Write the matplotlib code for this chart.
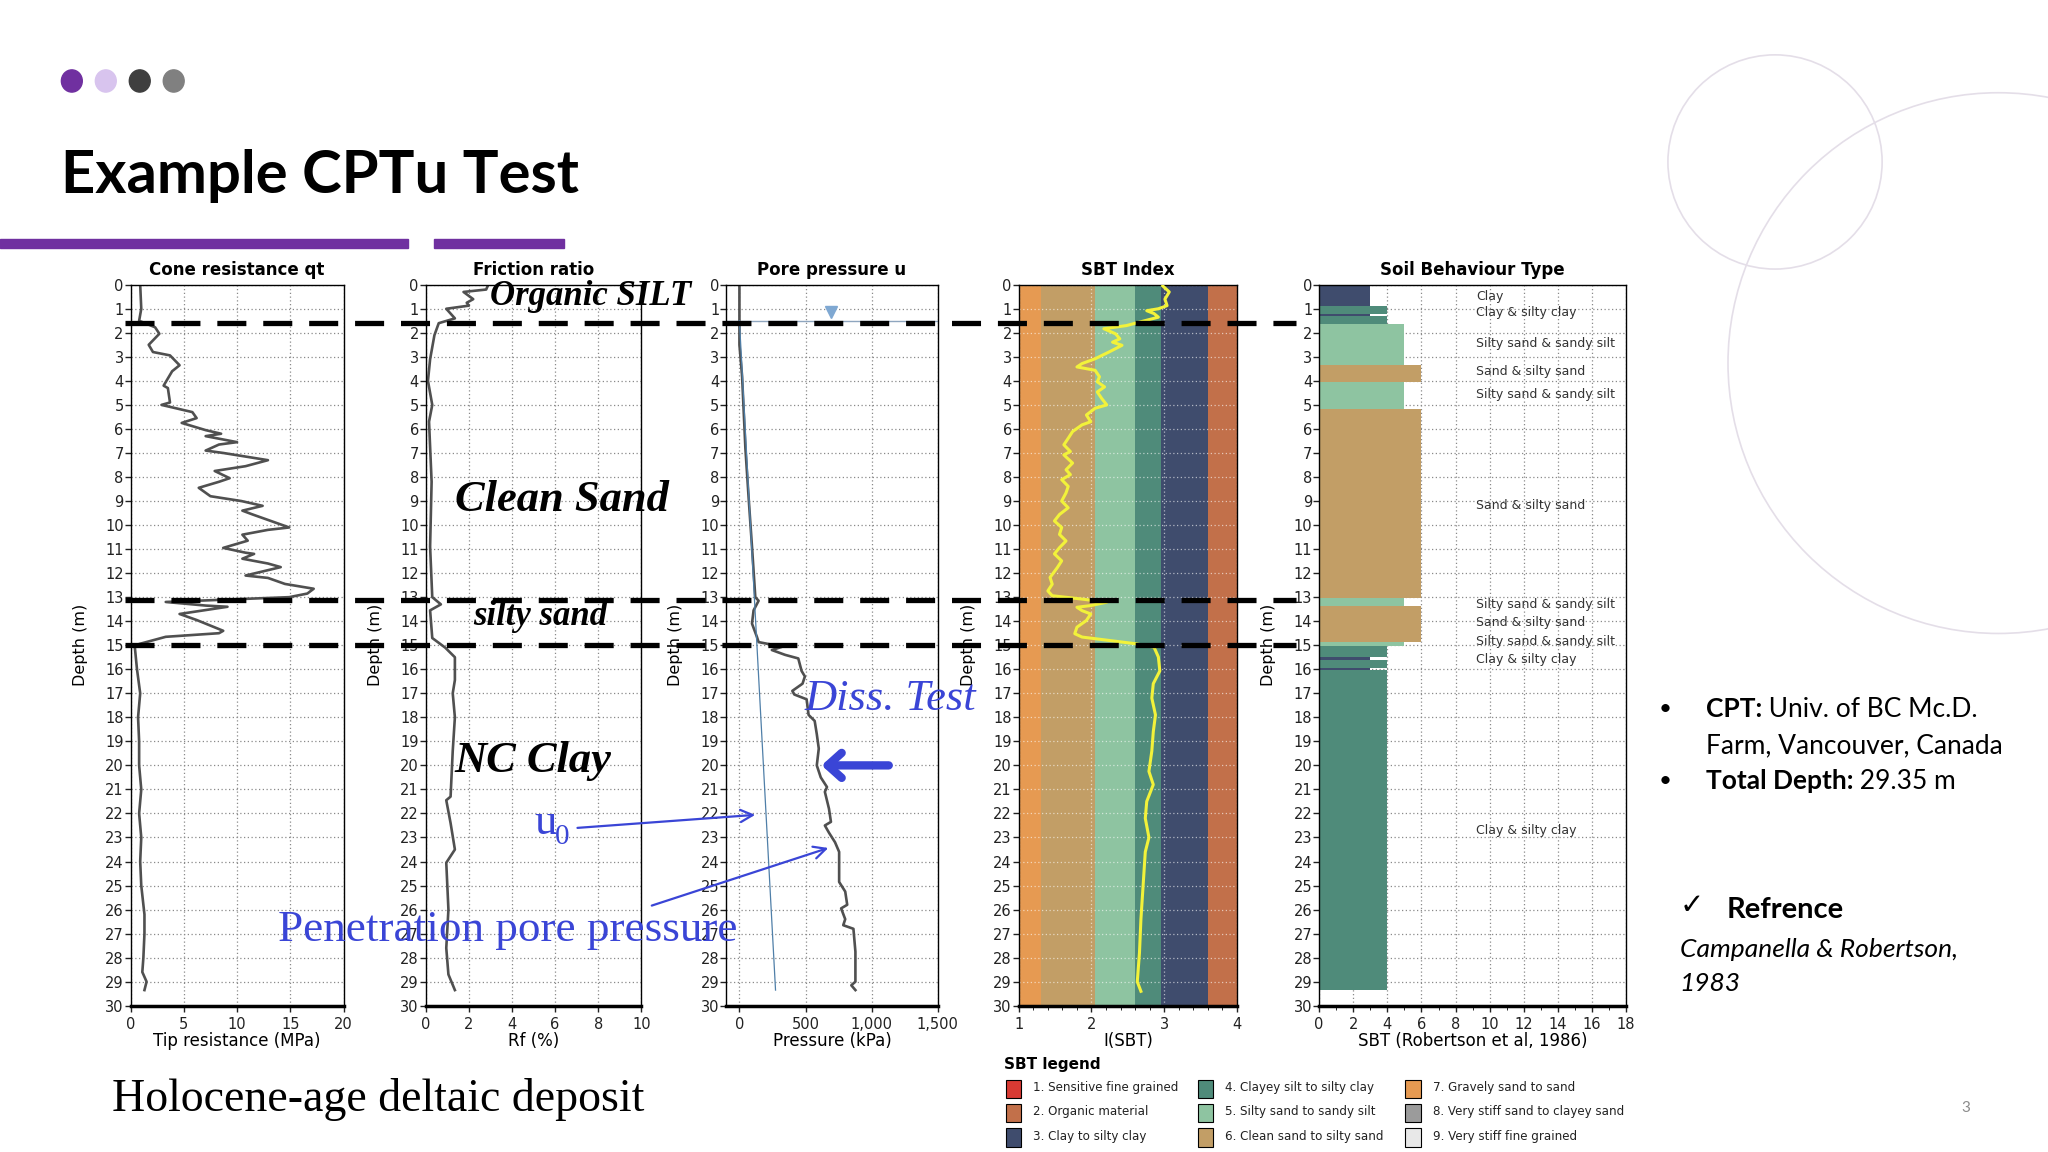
import numpy as np
import matplotlib.pyplot as plt
from matplotlib.patches import Rectangle, Ellipse
from matplotlib.lines import Line2D
from matplotlib.ticker import MultipleLocator
import matplotlib.transforms as mtransforms

# ---- data ----
qt_depth = [0, 1.0, 1.5, 1.77, 2.04, 2.5, 2.8, 2.94, 3.35, 3.6, 4.2, 4.3, 4.9, 5.0, 5.3, 5.55, 5.75,
            6.05, 6.2, 6.3, 6.55, 6.65, 6.9, 7.0, 7.3, 7.55, 7.75, 8.05, 8.2, 8.45, 8.8, 9.0, 9.2,
            9.4, 9.55, 10.1, 10.2, 10.4, 10.65, 10.95, 11.15, 11.2, 11.4, 11.6, 11.75, 12.1, 12.2,
            12.45, 12.65, 12.85, 13.0, 13.2, 13.35, 13.4, 13.7, 13.95, 14.4, 14.5, 14.65, 14.95,
            15.1, 16, 17, 18, 19, 20, 21, 22, 23, 24, 25, 26.2, 27, 28, 28.6, 29, 29.35]
qt = [0.9, 1.0, 0.8, 2.3, 2.7, 1.7, 2.1, 3.7, 4.6, 3.9, 3.1, 3.5, 3.7, 2.9, 5.8, 6.2, 4.8,
      7.05, 8.5, 7.05, 10.0, 8.3, 7.05, 8.7, 12.9, 10.8, 7.9, 9.3, 8.3, 6.4, 7.5, 10.4, 12.4,
      10.5, 11.4, 14.9, 12.9, 10.5, 11.0, 8.7, 10.8, 11.6, 10.5, 12.9, 14.1, 10.8, 12.9,
      14.5, 17.2, 16.6, 14.9, 3.3, 7.05, 9.1, 4.6, 6.2, 8.7, 8.3, 3.3, 0.8,
      0.4, 0.6, 0.9, 0.7, 0.8, 0.8, 1.0, 0.8, 1.0, 0.9, 1.0, 1.3, 1.3, 1.2, 1.1, 1.5, 1.3]

rf_depth = [0, 0.2, 0.3, 0.6, 0.75, 0.87, 1.0, 1.4, 1.6, 2.1, 3.1, 4.0, 5.0, 5.7, 8.2, 10.9,
            13.0, 13.3, 13.55, 14.7, 15.1, 15.5, 16.45, 17.0, 18.0, 19.4, 21.3, 21.45, 22.4,
            23.5, 24.05, 26.0, 27.6, 28.7, 29.35]
rf = [2.9, 2.8, 1.75, 2.2, 1.9, 2.0, 0.95, 1.35, 0.6, 0.4, 0.2, 0.1, 0.3, 0.15, 0.27, 0.2,
      0.3, 0.7, 0.2, 0.3, 0.9, 1.35, 1.35, 1.25, 1.35, 1.25, 1.15, 0.95, 1.15,
      1.35, 0.95, 1.05, 0.95, 1.05, 1.35]

u_depth = [0, 2.5, 3.8, 6.8, 8.9, 10.9, 13.0, 13.15, 13.55, 14.1, 14.65, 14.87, 14.95, 15.07,
           15.2, 15.4, 15.55, 16.07, 16.3, 16.6, 16.9, 17.05, 17.25, 17.9, 18.15, 18.7, 19.3,
           20.0, 20.5, 20.9, 21.1, 21.8, 22.35, 22.5, 22.8, 23.2, 23.6, 24.85, 25.25, 25.8,
           25.95, 26.4, 26.65, 26.8, 27.75, 29.0, 29.15, 29.35]
u2 = [0, 0, 20, 45, 70, 95, 120, 145, 107, 95, 132, 145, 220, 320,
      245, 345, 445, 470, 495, 477, 400, 415, 508, 523, 569, 585, 600,
      585, 615, 662, 646, 677, 692, 646, 677, 723, 754, 754, 800, 815,
      769, 800, 785, 862, 877, 877, 846, 877]
u0_depth = [1.5, 29.35]
u0 = [0, 273]
water_depth = 1.5

ic_depth = [0.05, 0.3, 0.6, 0.87, 1.0, 1.08, 1.2, 1.35, 1.5, 1.7,
            1.83, 2.04, 2.25, 2.39, 2.52, 2.8, 3.08, 3.28, 3.42, 3.56,
            3.83, 4.04, 4.25, 4.46, 4.73, 5.0, 5.14, 5.42, 5.7, 5.83,
            6.11, 6.39, 6.66, 6.94, 7.08, 7.42, 7.7, 7.9, 8.11, 8.39,
            8.66, 9.0, 9.28, 9.56, 9.83, 10.1, 10.39, 10.66, 10.94, 11.2,
            11.49, 11.77, 12.18, 12.46, 12.74, 12.94, 13.08, 13.21, 13.35, 13.42,
            13.56, 13.7, 13.97, 14.25, 14.52, 14.66, 14.8, 14.94, 15.08, 15.49,
            16.07, 16.6, 17.2, 17.9, 18.6, 19.4, 20.25, 20.8, 21.5, 22.2,
            23.0, 23.6, 25.0, 26.4, 27.8, 29.0, 29.4]
ic = [2.98, 3.07, 3.01, 3.04, 2.92, 2.76, 2.86, 2.92, 2.73, 2.48,
      2.17, 2.33, 2.39, 2.29, 2.42, 2.24, 2.05, 1.87, 1.80, 2.05,
      2.11, 2.08, 2.18, 2.08, 2.14, 2.21, 2.05, 1.93, 1.99, 1.87,
      1.74, 1.68, 1.62, 1.71, 1.62, 1.74, 1.65, 1.71, 1.59, 1.68,
      1.65, 1.59, 1.68, 1.56, 1.49, 1.59, 1.56, 1.65, 1.56, 1.49,
      1.59, 1.53, 1.43, 1.46, 1.40, 1.46, 1.87, 2.21, 1.99, 1.80,
      1.87, 1.99, 1.93, 1.80, 1.77, 1.87, 2.24, 2.61, 2.86, 2.92,
      2.94, 2.85, 2.83, 2.88, 2.85, 2.83, 2.79, 2.85, 2.76, 2.74,
      2.79, 2.74, 2.71, 2.68, 2.66, 2.63, 2.68]
ic_bounds = [1.0, 1.31, 2.05, 2.60, 2.95, 3.60, 4.0]
ic_band_zone = [7, 6, 5, 4, 3, 2]

sbt_top = [0.0, 0.9, 1.2, 1.3, 1.65, 3.35, 4.05, 5.15, 13.05, 13.35, 14.85, 15.05, 15.5, 15.6, 15.95, 16.05]
sbt_bottom = [0.9, 1.2, 1.3, 1.65, 3.35, 4.05, 5.15, 13.05, 13.35, 14.85, 15.05, 15.5, 15.6, 15.95, 16.05, 29.35]
sbt_zone = [3, 4, 3, 4, 5, 6, 5, 6, 5, 6, 5, 4, 3, 4, 3, 4]
sbt_names = ['Clay', 'Clay & silty clay', 'Silty sand & sandy silt', 'Sand & silty sand',
             'Silty sand & sandy silt', 'Sand & silty sand', 'Silty sand & sandy silt',
             'Sand & silty sand', 'Silty sand & sandy silt', 'Clay & silty clay', 'Clay & silty clay']
sbt_name_depth = [0.5, 1.17, 2.46, 3.6, 4.57, 9.19, 13.3, 14.05, 14.84, 15.6, 22.7]

zone_colors = {1: '#D83A33', 2: '#C2704A', 3: '#3F4C6D', 4: '#4F8B7A', 5: '#8EC4A1',
               6: '#C29E66', 7: '#E69A52', 8: '#9B9B9B', 9: '#E8E8E8'}
legend_labels = ['1. Sensitive fine grained', '2. Organic material', '3. Clay to silty clay',
                 '4. Clayey silt to silty clay', '5. Silty sand to sandy silt', '6. Clean sand to silty sand',
                 '7. Gravely sand to sand', '8. Very stiff sand to clayey sand', '9. Very stiff fine grained']

layer_breaks = [1.6, 13.1, 15.0]

# ---- layout helpers (positions on a 1568 x 882 grid) ----
W, H = 1568.0, 882.0
def fx(x):
    return x / W
def fy(y):
    return 1 - y / H

fig = plt.figure(figsize=(20.48, 11.52), dpi=100)
fig.patch.set_facecolor('white')
BLUE = '#3A45D6'

# decorative header
for x, c in zip([55, 81, 107, 133], ['#7030A0', '#D8C4EE', '#3F3F3F', '#808080']):
    fig.add_artist(Ellipse((fx(x), fy(62)), 16 / W, 17 / H, color=c, transform=fig.transFigure))
fig.text(fx(47), fy(135), 'Example CPTu Test', fontsize=43, fontweight='bold',
         family='Lato', va='center', ha='left')
fig.add_artist(Rectangle((0, fy(190)), fx(312), 7 / H, color='#7030A0', transform=fig.transFigure))
fig.add_artist(Rectangle((fx(332), fy(190)), fx(100), 7 / H, color='#7030A0', transform=fig.transFigure))
for cx, cy, r in [(1359, 124, 82), (1530, 278, 207)]:
    fig.add_artist(Ellipse((fx(cx), fy(cy)), 2 * r / W, 2 * r / H, fill=False,
                           ec='#E4DEE8', lw=1.2, transform=fig.transFigure))

TOP, BOT = 218, 770

def panel(left, right, title, xlabel, xlim, xticks, xticklabels=None):
    ax = fig.add_axes([fx(left), fy(BOT), fx(right - left), (BOT - TOP) / H])
    ax.set_ylim(30, 0)
    ax.set_yticks(range(0, 31))
    ax.set_xlim(*xlim)
    ax.set_xticks(xticks)
    if xticklabels:
        ax.set_xticklabels(xticklabels)
    ax.grid(True, linestyle=(0, (1, 2)), color='#8A8A8A', lw=0.9)
    ax.set_title(title, fontsize=12, fontweight='bold', pad=7)
    ax.set_xlabel(xlabel, fontsize=12, labelpad=0)
    ax.set_ylabel('Depth (m)', fontsize=11.5)
    ax.yaxis.set_label_coords(-33.0 / (right - left), 0.5)
    ax.tick_params(labelsize=10.5, length=4, width=1, pad=1, colors='#222222')
    ax.tick_params(axis='x', pad=4)
    for s in ax.spines.values():
        s.set_linewidth(1)
    ax.spines['bottom'].set_linewidth(2.5)
    return ax

ax1 = panel(100, 263, 'Cone resistance qt', 'Tip resistance (MPa)', (0, 20), [0, 5, 10, 15, 20])
ax1.plot(qt, qt_depth, color='#505050', lw=1.9)

ax2 = panel(326, 491, 'Friction ratio', 'Rf (%)', (0, 10), [0, 2, 4, 6, 8, 10])
ax2.plot(rf, rf_depth, color='#505050', lw=1.9)

ax3 = panel(556, 718, 'Pore pressure u', 'Pressure (kPa)', (-100, 1500), [0, 500, 1000, 1500],
            ['0', '500', '1,000', '1,500'])
ax3.plot(u2, u_depth, color='#505050', lw=1.9)
ax3.plot(u0, u0_depth, color='#4F7FA8', lw=0.9)
ax3.axhline(water_depth, color='#8FA6BF', lw=1)
ax3.plot([692], [1.15], marker='v', ms=9, color='#7FA8D2', ls='none')

ax4 = panel(780, 947, 'SBT Index', 'I(SBT)', (1, 4), [1, 2, 3, 4])
for lo, hi, z in zip(ic_bounds[:-1], ic_bounds[1:], ic_band_zone):
    ax4.axvspan(lo, hi, color=zone_colors[z], lw=0, zorder=0)
ax4.grid(True, linestyle=(0, (1, 2)), color='white', alpha=0.6, lw=0.9)
ax4.xaxis.set_minor_locator(MultipleLocator(0.2))
ax4.tick_params(which='minor', length=3)
ax4.plot(ic, ic_depth, color='#F2F23A', lw=2.2, zorder=3)

ax5 = panel(1010, 1245, 'Soil Behaviour Type', 'SBT (Robertson et al, 1986)', (0, 18),
            list(range(0, 19, 2)))
ax5.xaxis.set_minor_locator(MultipleLocator(1))
ax5.tick_params(which='minor', length=3)
ax5.barh(sbt_top, sbt_zone, height=np.array(sbt_bottom) - np.array(sbt_top), left=0,
         align='edge', color=[zone_colors[z] for z in sbt_zone], lw=0, zorder=2)
for name, d in zip(sbt_names, sbt_name_depth):
    ax5.text(9.2, d, name, fontsize=9, va='center', ha='left', color='#333333', zorder=3)

# layer boundary dashed lines across the plots
trans = mtransforms.blended_transform_factory(fig.transFigure, ax1.transData)
for d in layer_breaks:
    fig.add_artist(Line2D([fx(96), fx(992)], [d, d], transform=trans, color='black',
                          lw=3.8, linestyle=(0, (5.5, 3.2)), zorder=10))

# soil annotations
ser = 'Liberation Serif'
fig.text(fx(375), fy(227), 'Organic SILT', fontsize=25, family=ser, style='italic',
         fontweight='bold', va='center', zorder=11)
fig.text(fx(348), fy(383), 'Clean Sand', fontsize=32, family=ser, style='italic',
         fontweight='bold', va='center', zorder=11)
fig.text(fx(362), fy(472), 'silty sand', fontsize=25, family=ser, style='italic',
         fontweight='bold', va='center', zorder=11)
fig.text(fx(348), fy(583), 'NC Clay', fontsize=32, family=ser, style='italic',
         fontweight='bold', va='center', zorder=11)
fig.text(fx(616), fy(535), 'Diss. Test', fontsize=32, family=ser, style='italic',
         color=BLUE, va='center', zorder=11)
fig.text(fx(409), fy(630), 'u', fontsize=32, family=ser, color=BLUE, va='center', zorder=11)
fig.text(fx(425), fy(641), '0', fontsize=21, family=ser, color=BLUE, va='center', zorder=11)
fig.text(fx(213), fy(712), 'Penetration pore pressure', fontsize=32.5, family=ser, color=BLUE,
         va='center', zorder=11)
fig.text(fx(86), fy(842), 'Holocene-age deltaic deposit', fontsize=33, family=ser,
         color='black', va='center')

ax3.annotate('', xy=(140, 22.05), xytext=(fx(440), fy(634)), textcoords='figure fraction',
             arrowprops=dict(arrowstyle='->', color=BLUE, lw=1.6, mutation_scale=22),
             annotation_clip=False)
ax3.annotate('', xy=(692, 23.4), xytext=(fx(497), fy(694)), textcoords='figure fraction',
             arrowprops=dict(arrowstyle='->', color=BLUE, lw=1.6, mutation_scale=22),
             annotation_clip=False)
ax3.annotate('', xy=(600, 20.0), xytext=(1150, 20.0),
             arrowprops=dict(arrowstyle='->, head_length=0.5, head_width=0.45', color=BLUE,
                             lw=6, mutation_scale=20),
             annotation_clip=False, zorder=12)

# SBT legend
fig.text(fx(769), fy(815), 'SBT legend', fontsize=11, fontweight='bold', va='center')
for i, (lab, z) in enumerate(zip(legend_labels, range(1, 10))):
    col, row = divmod(i, 3)
    x0 = [770, 917, 1076][col]
    y0 = [834, 852, 871][row]
    fig.add_artist(Rectangle((fx(x0), fy(y0 + 7)), 12 / W, 14 / H, fc=zone_colors[z],
                             ec='black', lw=0.8, transform=fig.transFigure))
    fig.text(fx(x0 + 21), fy(y0 - 1), lab, fontsize=8.6, va='center', color='#222222')

# right side notes
side = 'Lato'
fs = 19
t = fig.text(fx(1306), fy(543), 'CPT:', fontsize=fs, fontweight='bold', family=side, va='center')
fig.text(fx(1306), fy(571), 'Farm, Vancouver, Canada', fontsize=fs, family=side, va='center')
fig.text(fx(1270), fy(543), '\u2022', fontsize=16, family=side, va='center')
fig.text(fx(1270), fy(598), '\u2022', fontsize=16, family=side, va='center')
t2 = fig.text(fx(1306), fy(598), 'Total Depth:', fontsize=fs, fontweight='bold', family=side, va='center')
fig.text(fx(1286), fy(694), '\u2713', fontsize=21, family='DejaVu Sans', va='center')
fig.text(fx(1322), fy(697), 'Refrence', fontsize=21, fontweight='bold', family=side, va='center')
fig.text(fx(1286), fy(727), 'Campanella & Robertson,', fontsize=fs, style='italic', family=side, va='center')
fig.text(fx(1286), fy(753), '1983', fontsize=fs, style='italic', family=side, va='center')
fig.text(fx(1502), fy(848), '3', fontsize=11, color='#8C8C8C', family=side, va='center')

fig.canvas.draw()
r = fig.canvas.get_renderer()
for tt, rest in [(t, ' Univ. of BC Mc.D.'), (t2, ' 29.35 m')]:
    bb = tt.get_window_extent(r)
    x1 = bb.x1 / fig.bbox.width
    fig.text(x1, tt.get_position()[1], rest, fontsize=fs, family=side, va='center')

fig.savefig('out.png', dpi=100)
